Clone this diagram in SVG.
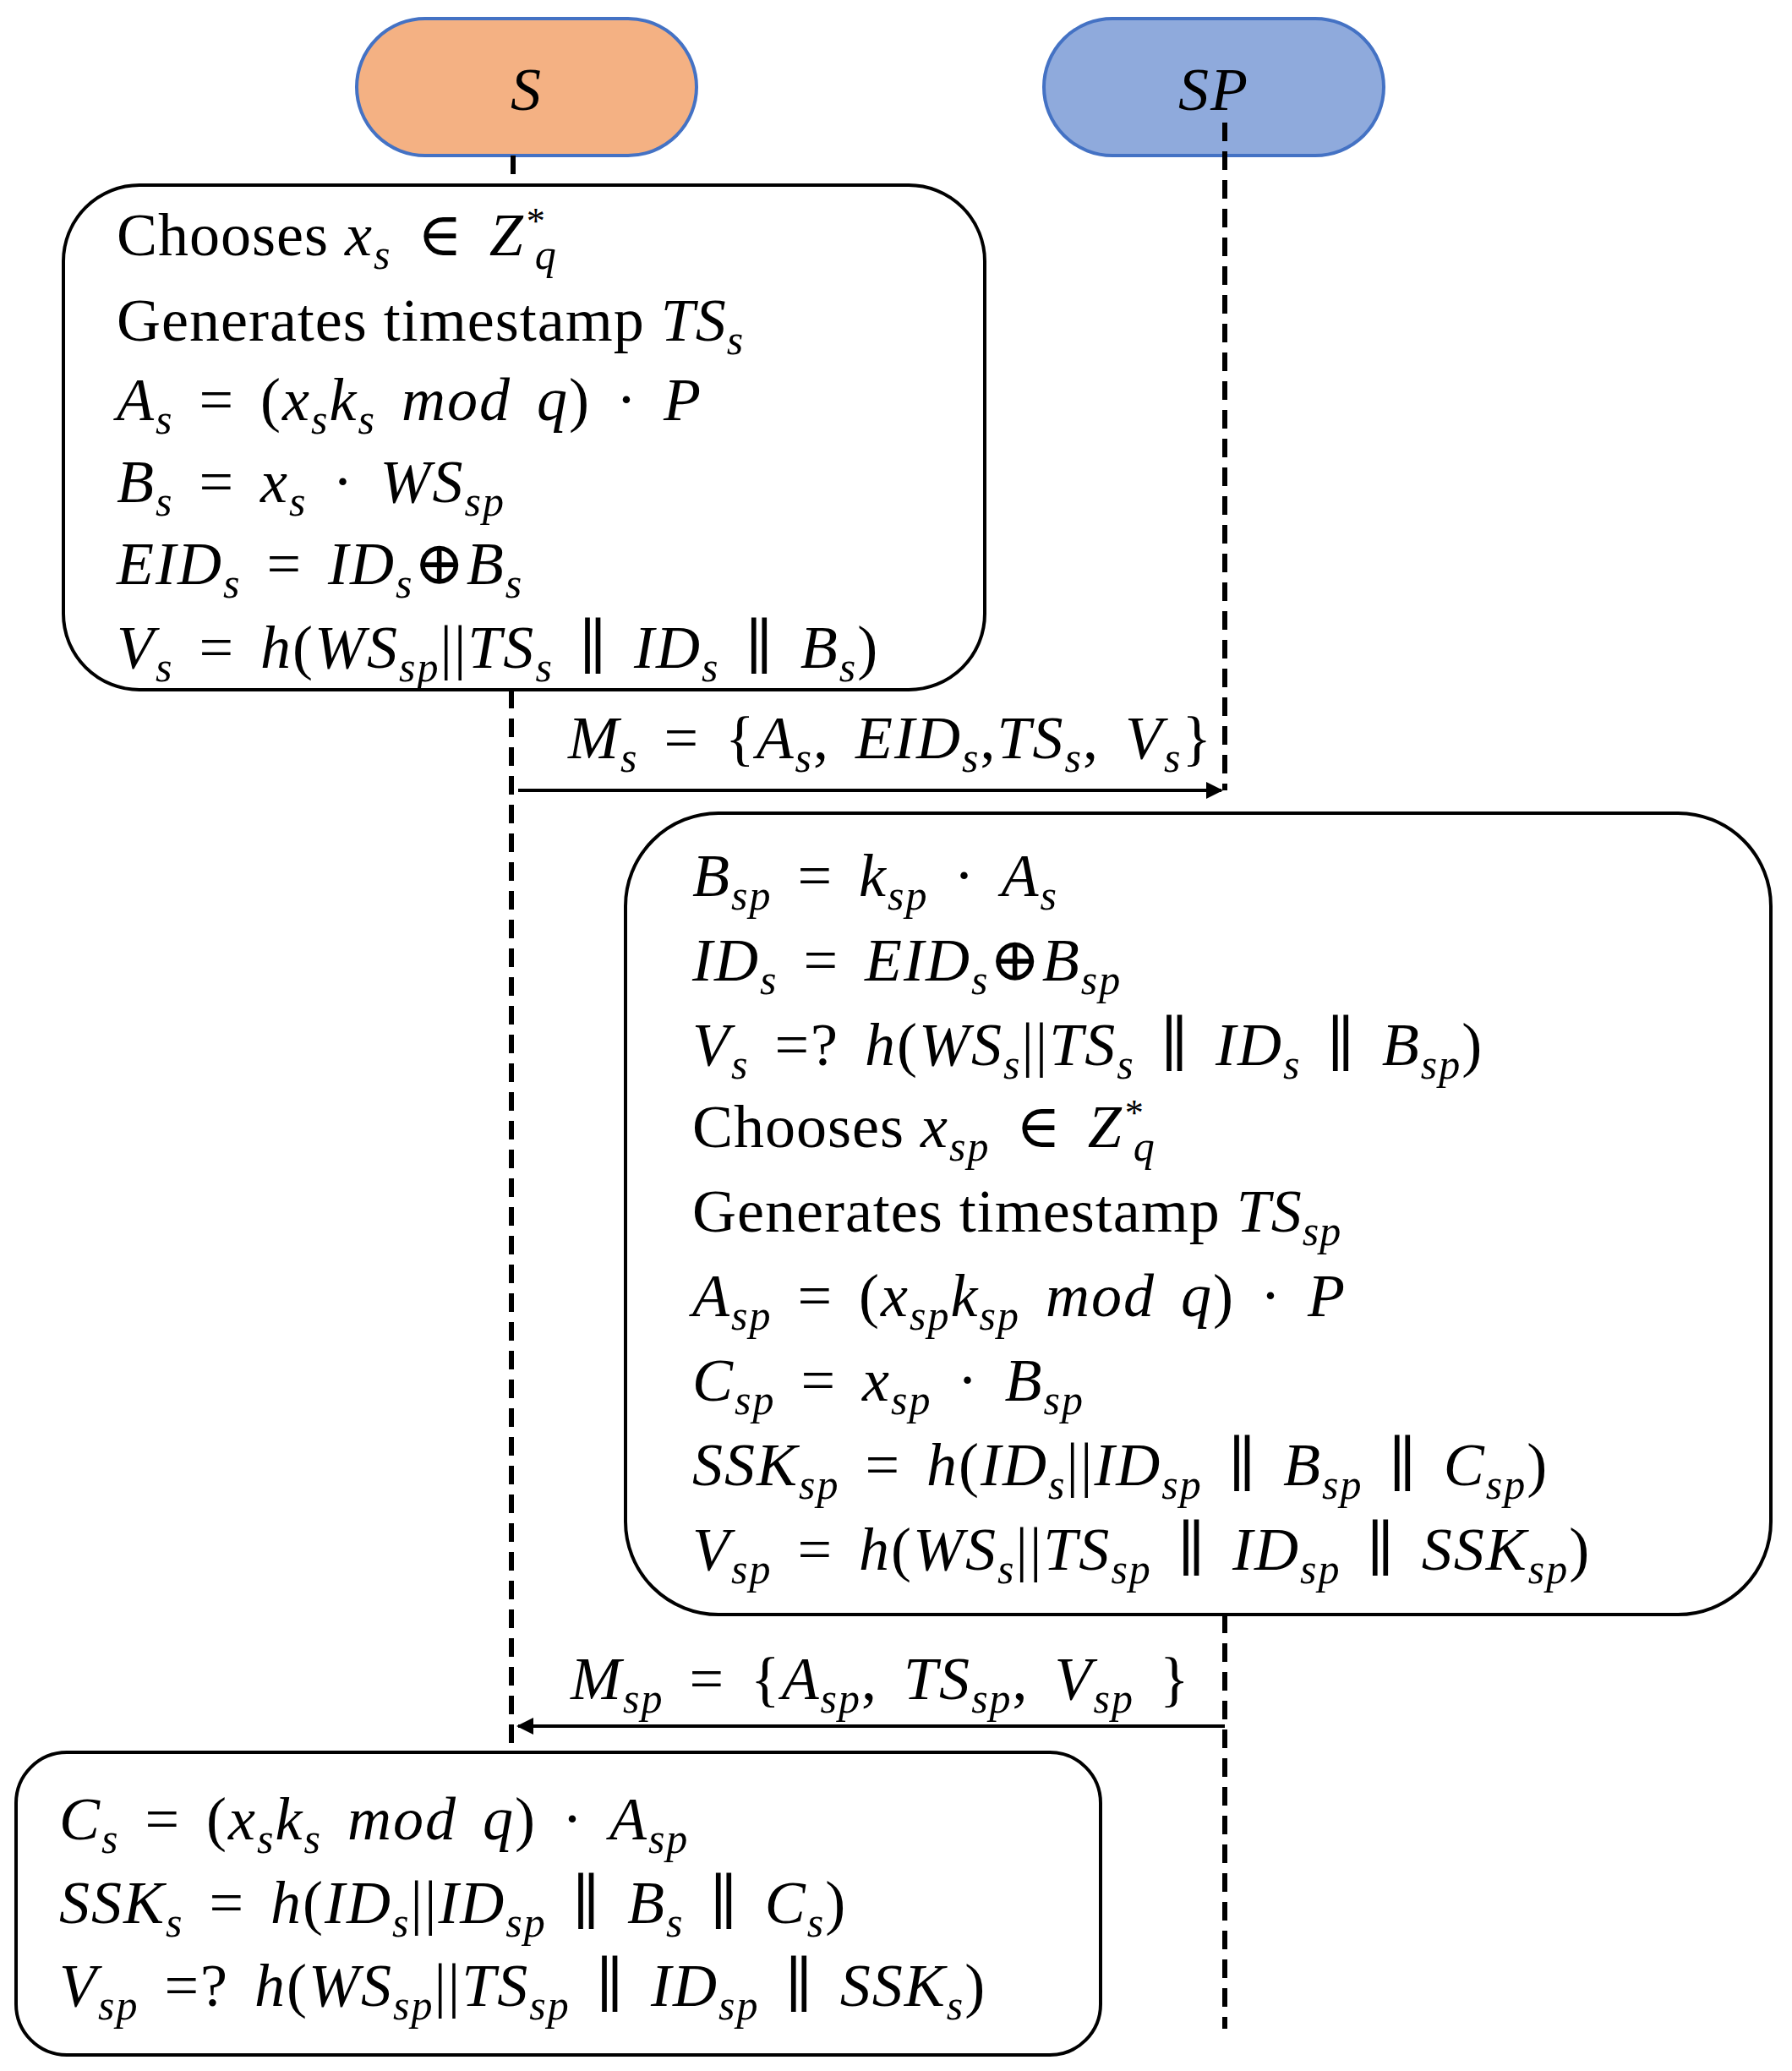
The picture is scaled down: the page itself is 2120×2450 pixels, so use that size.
<svg xmlns="http://www.w3.org/2000/svg" width="2120" height="2450" viewBox="0 0 2120 2450">
<style>
text{font-family:"Liberation Serif","DejaVu Serif",serif;font-size:72px;fill:#000;letter-spacing:2px;word-spacing:10px}
.p{word-spacing:0;letter-spacing:1px}
.i{font-style:italic}
.s{font-size:50px;font-style:italic;baseline-shift:-16px}
.u{font-size:44px;font-style:italic;baseline-shift:26px}
.box{fill:#fff;stroke:#000;stroke-width:4}
.life{stroke:#000;stroke-width:6;stroke-dasharray:22 12;fill:none}
.arr{stroke:#000;stroke-width:4;fill:none}
</style>
<defs><marker id="ah" viewBox="0 0 10 10" refX="9" refY="5" markerWidth="5" markerHeight="5" orient="auto"><path d="M0,0L10,5L0,10z" fill="#000"/></marker></defs>
<g id="S"><rect x="422" y="22" width="402" height="162" rx="81" fill="#F4B183" stroke="#4472C4" stroke-width="4"/><text x="623" y="130" text-anchor="middle" class="i">S</text></g>
<g id="SP"><rect x="1235" y="22" width="402" height="162" rx="81" fill="#8FAADC" stroke="#4472C4" stroke-width="4"/><text x="1436" y="130" text-anchor="middle" class="i">SP</text></g>
<g id="connectors">
<path class="life" d="M607 184V219M605 816V2073M1449 145V935M1449 1910V2400"/>
<path class="arr" d="M613 935H1445" marker-end="url(#ah)"/>
<path class="arr" d="M1449 2042H613" marker-end="url(#ah)"/>
<text x="672" y="897"><tspan class="i">M</tspan><tspan class="s">s</tspan> = {<tspan class="i">A</tspan><tspan class="s">s</tspan>, <tspan class="i">EID</tspan><tspan class="s">s</tspan>,<tspan class="i">TS</tspan><tspan class="s">s</tspan>, <tspan class="i">V</tspan><tspan class="s">s</tspan>}</text>
<text x="675" y="2010"><tspan class="i">M</tspan><tspan class="s">sp</tspan> = {<tspan class="i">A</tspan><tspan class="s">sp</tspan>, <tspan class="i">TS</tspan><tspan class="s">sp</tspan>, <tspan class="i">V</tspan><tspan class="s">sp</tspan>  }</text>
</g>
<g id="box1"><rect class="box" x="75" y="219" width="1090" height="597" rx="90"/>
<text x="138" y="302"><tspan class="p">Chooses </tspan><tspan class="i">x</tspan><tspan class="s">s</tspan> ∈ <tspan class="i">Z</tspan><tspan class="u">*</tspan><tspan class="s" dx="-12">q</tspan></text>
<text x="138" y="403" class="p">Generates timestamp <tspan class="i">TS</tspan><tspan class="s">s</tspan></text>
<text x="138" y="497"><tspan class="i">A</tspan><tspan class="s">s</tspan> = (<tspan class="i">x</tspan><tspan class="s">s</tspan><tspan class="i">k</tspan><tspan class="s">s</tspan> <tspan class="i">mod q</tspan>) · <tspan class="i">P</tspan></text>
<text x="138" y="594"><tspan class="i">B</tspan><tspan class="s">s</tspan> = <tspan class="i">x</tspan><tspan class="s">s</tspan>  · <tspan class="i">WS</tspan><tspan class="s">sp</tspan></text>
<text x="138" y="691"><tspan class="i">EID</tspan><tspan class="s">s</tspan> = <tspan class="i">ID</tspan><tspan class="s">s</tspan>⊕<tspan class="i">B</tspan><tspan class="s">s</tspan></text>
<text x="138" y="790"><tspan class="i">V</tspan><tspan class="s">s</tspan> = <tspan class="i">h</tspan>(<tspan class="i">WS</tspan><tspan class="s">sp</tspan>||<tspan class="i">TS</tspan><tspan class="s">s</tspan> ∥ <tspan class="i">ID</tspan><tspan class="s">s</tspan> ∥ <tspan class="i">B</tspan><tspan class="s">s</tspan>)</text>
</g>
<g id="box2"><rect class="box" x="740" y="962" width="1355" height="948" rx="110"/>
<text x="819" y="1060"><tspan class="i">B</tspan><tspan class="s">sp</tspan> = <tspan class="i">k</tspan><tspan class="s">sp</tspan> · <tspan class="i">A</tspan><tspan class="s">s</tspan></text>
<text x="819" y="1160"><tspan class="i">ID</tspan><tspan class="s">s</tspan> = <tspan class="i">EID</tspan><tspan class="s">s</tspan>⊕<tspan class="i">B</tspan><tspan class="s">sp</tspan></text>
<text x="819" y="1260"><tspan class="i">V</tspan><tspan class="s">s</tspan> =? <tspan class="i">h</tspan>(<tspan class="i">WS</tspan><tspan class="s">s</tspan>||<tspan class="i">TS</tspan><tspan class="s">s</tspan> ∥ <tspan class="i">ID</tspan><tspan class="s">s</tspan> ∥ <tspan class="i">B</tspan><tspan class="s">sp</tspan>)</text>
<text x="819" y="1357"><tspan class="p">Chooses </tspan><tspan class="i">x</tspan><tspan class="s">sp</tspan> ∈ <tspan class="i">Z</tspan><tspan class="u">*</tspan><tspan class="s" dx="-12">q</tspan></text>
<text x="819" y="1457" class="p">Generates timestamp <tspan class="i">TS</tspan><tspan class="s">sp</tspan></text>
<text x="819" y="1557"><tspan class="i">A</tspan><tspan class="s">sp</tspan> = (<tspan class="i">x</tspan><tspan class="s">sp</tspan><tspan class="i">k</tspan><tspan class="s">sp</tspan> <tspan class="i">mod q</tspan>) · <tspan class="i">P</tspan></text>
<text x="819" y="1657"><tspan class="i">C</tspan><tspan class="s">sp</tspan> = <tspan class="i">x</tspan><tspan class="s">sp</tspan> · <tspan class="i">B</tspan><tspan class="s">sp</tspan></text>
<text x="819" y="1757"><tspan class="i">SSK</tspan><tspan class="s">sp</tspan> = <tspan class="i">h</tspan>(<tspan class="i">ID</tspan><tspan class="s">s</tspan>||<tspan class="i">ID</tspan><tspan class="s">sp</tspan> ∥ <tspan class="i">B</tspan><tspan class="s">sp</tspan> ∥ <tspan class="i">C</tspan><tspan class="s">sp</tspan>)</text>
<text x="819" y="1857"><tspan class="i">V</tspan><tspan class="s">sp</tspan> = <tspan class="i">h</tspan>(<tspan class="i">WS</tspan><tspan class="s">s</tspan>||<tspan class="i">TS</tspan><tspan class="s">sp</tspan> ∥ <tspan class="i">ID</tspan><tspan class="s">sp</tspan> ∥ <tspan class="i">SSK</tspan><tspan class="s">sp</tspan>)</text>
</g>
<g id="box3"><rect class="box" x="19" y="2073" width="1283" height="358" rx="60"/>
<text x="70" y="2176"><tspan class="i">C</tspan><tspan class="s">s</tspan> = (<tspan class="i">x</tspan><tspan class="s">s</tspan><tspan class="i">k</tspan><tspan class="s">s</tspan> <tspan class="i">mod q</tspan>) · <tspan class="i">A</tspan><tspan class="s">sp</tspan></text>
<text x="70" y="2275"><tspan class="i">SSK</tspan><tspan class="s">s</tspan> = <tspan class="i">h</tspan>(<tspan class="i">ID</tspan><tspan class="s">s</tspan>||<tspan class="i">ID</tspan><tspan class="s">sp</tspan> ∥ <tspan class="i">B</tspan><tspan class="s">s</tspan> ∥ <tspan class="i">C</tspan><tspan class="s">s</tspan>)</text>
<text x="70" y="2373"><tspan class="i">V</tspan><tspan class="s">sp</tspan> =? <tspan class="i">h</tspan>(<tspan class="i">WS</tspan><tspan class="s">sp</tspan>||<tspan class="i">TS</tspan><tspan class="s">sp</tspan> ∥ <tspan class="i">ID</tspan><tspan class="s">sp</tspan> ∥ <tspan class="i">SSK</tspan><tspan class="s">s</tspan>)</text>
</g>
</svg>
